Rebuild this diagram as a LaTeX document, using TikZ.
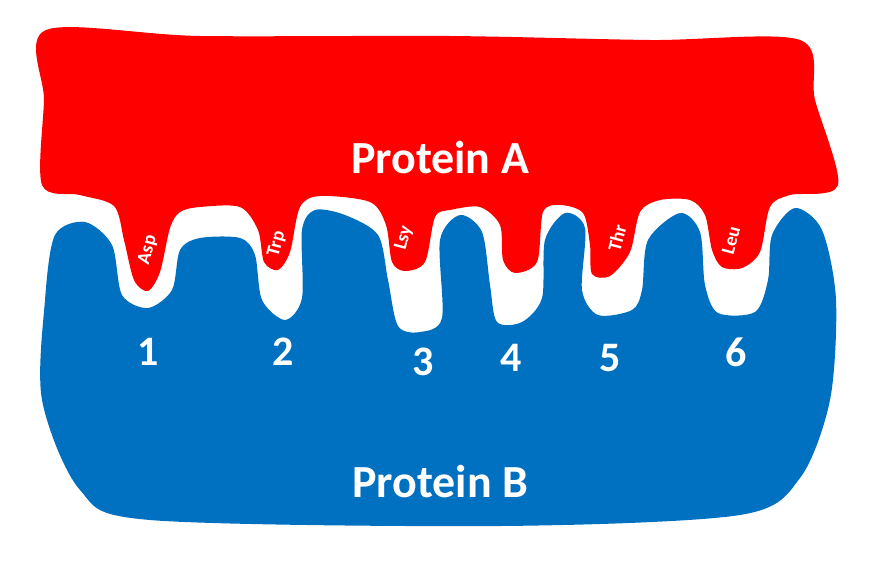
\documentclass[tikz,border=0pt]{standalone}
\usepackage{fontspec}
\setmainfont{Carlito}
\begin{document}
\begin{tikzpicture}[x=1pt,y=-1pt,
  big/.style={text=white,font=\bfseries\fontsize{46}{46}\selectfont},
  num/.style={text=white,font=\bfseries\fontsize{42}{42}\selectfont},
  res/.style={text=white,inner sep=0pt,font=\bfseries\fontsize{19}{19}\selectfont,rotate=75}]
\useasboundingbox (0,0) rectangle (890,565);
\definecolor{pb}{HTML}{0070C0}
\fill[pb] plot[smooth cycle,tension=0.5] coordinates{
 (45,300)(55,235)(85,222)(112,245)(122,295)(148,308)(172,290)(180,250)(200,238)(240,238)(255,255)
 (262,300)(285,320)(302,298)(302,230)(315,210)(345,215)(378,235)(388,280)(398,326)(420,332)(442,318)(440,240)(460,215)(482,232)
 (490,285)(497,322)(522,322)(542,298)(545,240)(565,213)(585,228)(582,290)(598,315)(632,310)(642,290)(648,240)(680,213)(700,232)
 (705,285)(718,313)(755,312)(768,280)(772,235)(795,208)(822,230)(836,300)(830,400)(800,478)(740,515)(500,526)(150,520)(80,490)(42,400)};
\fill[red] plot[smooth cycle,tension=0.5] coordinates{
 (46,30)(200,36)(450,36)(650,40)(800,40)(815,100)(838,185)(790,195)(770,207)(760,252)(742,268)(722,267)(712,250)(705,215)(690,200)
 (660,200)(640,212)(630,252)(610,276)(592,274)(590,245)(583,213)(560,205)(543,212)(537,262)(515,273)(503,260)(500,225)(480,207)(450,210)
 (435,217)(425,262)(405,271)(392,262)(386,225)(370,202)(320,196)(300,207)(290,252)(278,270)(264,262)(258,230)(240,207)(200,207)(180,212)
 (170,228)(160,272)(148,291)(134,280)(124,240)(114,206)(80,195)(42,185)(44,100)};
\node[big] (pa) at (440,158) {Protein A};
\node[big] (pbl) at (440,482) {Protein B};
\node[num] (n1) at (148,352) {1};
\node[num] (n2) at (283,352) {2};
\node[num] (n3) at (423,362) {3};
\node[num] (n4) at (511,358) {4};
\node[num] (n5) at (610,358) {5};
\node[num] (n6) at (736,352) {6};
\node[res] (r1) at (148,250) {Asp};
\node[res] (r2) at (277,244) {Trp};
\node[res] (r3) at (404,238) {Lsy};
\node[res] (r5) at (617,238) {Thr};
\node[res] (r6) at (731,240) {Leu};
\end{tikzpicture}
\end{document}
